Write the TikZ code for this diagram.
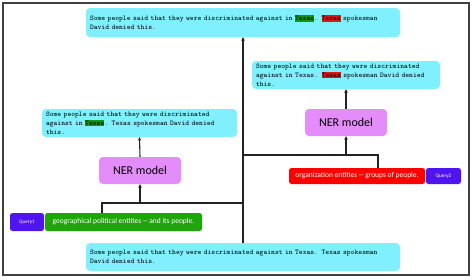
\documentclass[tikz,border=0pt]{standalone}
\usepackage{fontspec}
\usetikzlibrary{arrows.meta,calc}
\newfontfamily\carl{Carlito}
\definecolor{cyanbox}{RGB}{128,240,255}
\definecolor{nerbox}{RGB}{228,140,250}
\definecolor{querybox}{RGB}{80,20,240}
\definecolor{greenbox}{RGB}{30,165,10}
\definecolor{redbox}{RGB}{255,0,0}
\definecolor{hlgreen}{RGB}{20,150,20}
\definecolor{hlred}{RGB}{225,20,20}
\definecolor{linecol}{RGB}{35,35,35}
\newcommand\hlg[1]{{\fboxsep=0pt\colorbox{hlgreen}{\rule[-1pt]{0pt}{6.6pt}#1}}}
\newcommand\hlr[1]{{\fboxsep=0pt\colorbox{hlred}{\rule[-1pt]{0pt}{6.6pt}#1}}}
\begin{document}
\begin{tikzpicture}[x=1pt,y=-1pt,
  sentbox/.style={fill=cyanbox,rounded corners=4pt,inner xsep=4pt,inner ysep=0pt,
    font=\ttfamily\fontsize{7.2}{9}\selectfont,align=left,anchor=center},
  nerbox/.style={fill=nerbox,rounded corners=4pt,inner sep=0pt,
    font=\carl\fontsize{12}{14}\selectfont,minimum width=82pt,minimum height=27pt},
  qbox/.style={fill=querybox,rounded corners=2.5pt,inner sep=0pt,text=white,
    font=\carl\fontsize{5.2}{6}\selectfont},
  entbox/.style={rounded corners=2.5pt,inner sep=0pt,text=white,
    font=\carl\fontsize{7.5}{9}\selectfont},
  conn/.style={draw=linecol,line width=1.1pt},
  arr/.style={conn,-{Stealth[length=3.5pt,width=3.5pt]}}]
\useasboundingbox (0,0) rectangle (474,279);
\draw[draw=black!75,line width=1.2pt] (3,3) rectangle (469,275);
% sentence boxes
\node[sentbox,text width=306pt,minimum height=29pt] (top) at (243,22.5)
  {Some people said that they were discriminated against in \hlg{Texas}. \hlr{Texas} spokesman\\David denied this.};
\node[sentbox,text width=180pt,minimum height=28pt] (rsent) at (346,75)
  {Some people said that they were discriminated\\against in Texas. \hlr{Texas} spokesman David denied\\this.};
\node[sentbox,text width=187pt,minimum height=28pt] (lsent) at (139.5,123)
  {Some people said that they were discriminated\\against in \hlg{Texas}. Texas spokesman David denied\\this.};
\node[sentbox,text width=306pt,minimum height=28pt] (bottom) at (243,257)
  {Some people said that they were discriminated against in Texas. Texas spokesman\\David denied this.};
% NER models
\node[nerbox] (rner) at (346,122.5) {NER model};
\node[nerbox] (lner) at (140,170.5) {NER model};
% entity boxes
\node[entbox,fill=redbox,minimum width=136pt,minimum height=16pt] (red) at (357,176)
  {organization entities -- groups of people.};
\node[qbox,minimum width=35pt,minimum height=16pt] (q2) at (443.5,176) {Query2};
\node[entbox,fill=greenbox,minimum width=157pt,minimum height=18pt] (green) at (123.5,222)
  {geographical political entities -- and its people.};
\node[qbox,minimum width=34pt,minimum height=18pt] (q1) at (27,222) {Query1};
% connectors
\coordinate (jR) at (243,155);
\coordinate (jL) at (243,203);
\draw[arr] (bottom.north) -- (top.south);
\draw[conn] (jR) -| ([xshift=21pt]red.north);
\draw[arr] (rner.south |- jR) -- (rner.south);
\draw[arr] (rner.north) -- (rsent.south);
\draw[conn] (jL) -| ([xshift=-21.5pt]green.north);
\draw[arr] (lner.south |- jL) -- (lner.south);
\draw[arr] (lner.north) -- (lsent.south);
\end{tikzpicture}
\end{document}
